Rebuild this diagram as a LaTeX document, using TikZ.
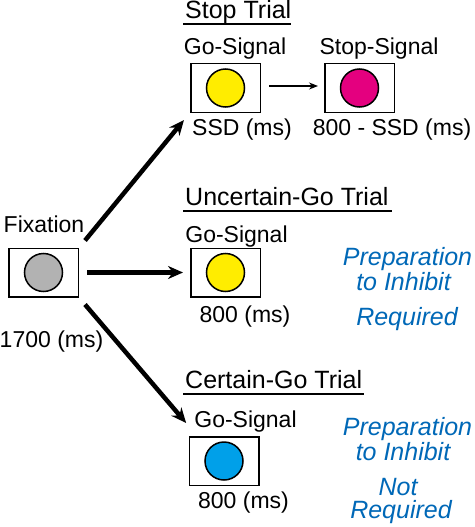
\documentclass[tikz,border=0pt]{standalone}
\usepackage{fontspec}
\setmainfont{Liberation Sans}
\usetikzlibrary{positioning,arrows.meta}
\definecolor{goyellow}{RGB}{255,237,0}
\definecolor{stopmagenta}{RGB}{228,0,127}
\definecolor{goblue}{RGB}{0,160,233}
\definecolor{fixgray}{RGB}{178,178,178}
\definecolor{noteblue}{RGB}{0,104,183}

\begin{document}
\begin{tikzpicture}[x=1pt,y=-1pt,
  screen/.style={draw,line width=1.5pt,minimum width=69.5pt,minimum height=48.5pt,inner sep=0pt},
  dot/.style={circle,draw,line width=1.5pt,minimum size=38pt,inner sep=0pt},
  lbl/.style={font=\fontsize{23}{27}\selectfont,inner sep=0pt,anchor=base},
  ttl/.style={font=\fontsize{25}{30}\selectfont,inner sep=0pt,anchor=base west},
  note/.style={font=\fontsize{25}{30}\selectfont\itshape,text=noteblue,inner sep=0pt,anchor=base},
  bigarrow/.style={-{Stealth[length=15pt,width=13pt]},line width=4.5pt}]
  \useasboundingbox (0,0) rectangle (474,527);

  %fixation
  \node[screen] (fix) at (43.5,272.5) {};
  \node[dot,fill=fixgray] (fixdot) at (fix) {};
  \node[lbl] (fixlbl) at (44,232) {Fixation};
  \node[lbl] (fixtime) at (51.5,347) {1700 (ms)};

  %stop trial
  \node[ttl] (stoptitle) at (185,19) {Stop Trial};
  \draw[line width=2pt] ([shift={(-2pt,-5pt)}]stoptitle.base west) -- ([shift={(0pt,-5pt)}]stoptitle.base east);
  \node[lbl] (stopgolbl) at (235,55) {Go-Signal};
  \node[screen] (stopgo) at (225.5,88) {};
  \node[dot,fill=goyellow] (stopgodot) at (stopgo) {};
  \node[lbl] (stopsiglbl) at (379,55) {Stop-Signal};
  \node[screen] (stopsig) at (359.5,88) {};
  \node[dot,fill=stopmagenta] (stopsigdot) at (stopsig) {};
  \node[lbl] (ssd) at (242,135) {SSD (ms)};
  \node[lbl] (ssdrest) at (392,135) {800 - SSD (ms)};
  \draw[-{Stealth[length=9pt,width=7pt]},line width=1.2pt,shorten <=8pt,shorten >=6pt] ([yshift=2pt]stopgo.east) -- ([yshift=2pt]stopsig.west);

  %uncertain-go trial
  \node[ttl] (unctitle) at (185,205) {Uncertain-Go Trial};
  \draw[line width=2pt] ([shift={(-2pt,-6pt)}]unctitle.base west) -- ([shift={(3pt,-6pt)}]unctitle.base east);
  \node[lbl] (uncgolbl) at (236.5,242) {Go-Signal};
  \node[screen] (uncgo) at (225.5,272.5) {};
  \node[dot,fill=goyellow] (uncgodot) at (uncgo) {};
  \node[lbl] (unctime) at (245,322) {800 (ms)};
  \node[note] (uncprep) at (407.5,265) {Preparation};
  \node[note] (uncinh) at (403.5,290) {to Inhibit};
  \node[note] (uncreq) at (407,325) {Required};

  %certain-go trial
  \node[ttl] (certitle) at (185,388) {Certain-Go Trial};
  \draw[line width=2pt] ([shift={(-2pt,-6pt)}]certitle.base west) -- ([shift={(2pt,-6pt)}]certitle.base east);
  \node[lbl] (cergolbl) at (245.5,427) {Go-Signal};
  \node[screen] (cergo) at (224,461) {};
  \node[dot,fill=goblue] (cergodot) at (cergo) {};
  \node[lbl] (certime) at (243.5,508) {800 (ms)};
  \node[note] (cerprep) at (407.5,435) {Preparation};
  \node[note] (cerinh) at (403,460) {to Inhibit};
  \node[note] (cernot) at (398,495) {Not};
  \node[note] (cerreq) at (401,518) {Required};

  %fix>stop
  \draw[bigarrow] ([shift={(6pt,7pt)}]fix.north east) -- ([shift={(-8pt,15pt)}]ssd.base west);
  %fix>uncertain
  \draw[bigarrow,shorten <=8pt,shorten >=7pt] (fix.east) -- (uncgo.west);
  %fix>certain
  \draw[bigarrow] ([shift={(6pt,-7pt)}]fix.south east) -- ([shift={(-8pt,4pt)}]cergolbl.base west);
\end{tikzpicture}
\end{document}
